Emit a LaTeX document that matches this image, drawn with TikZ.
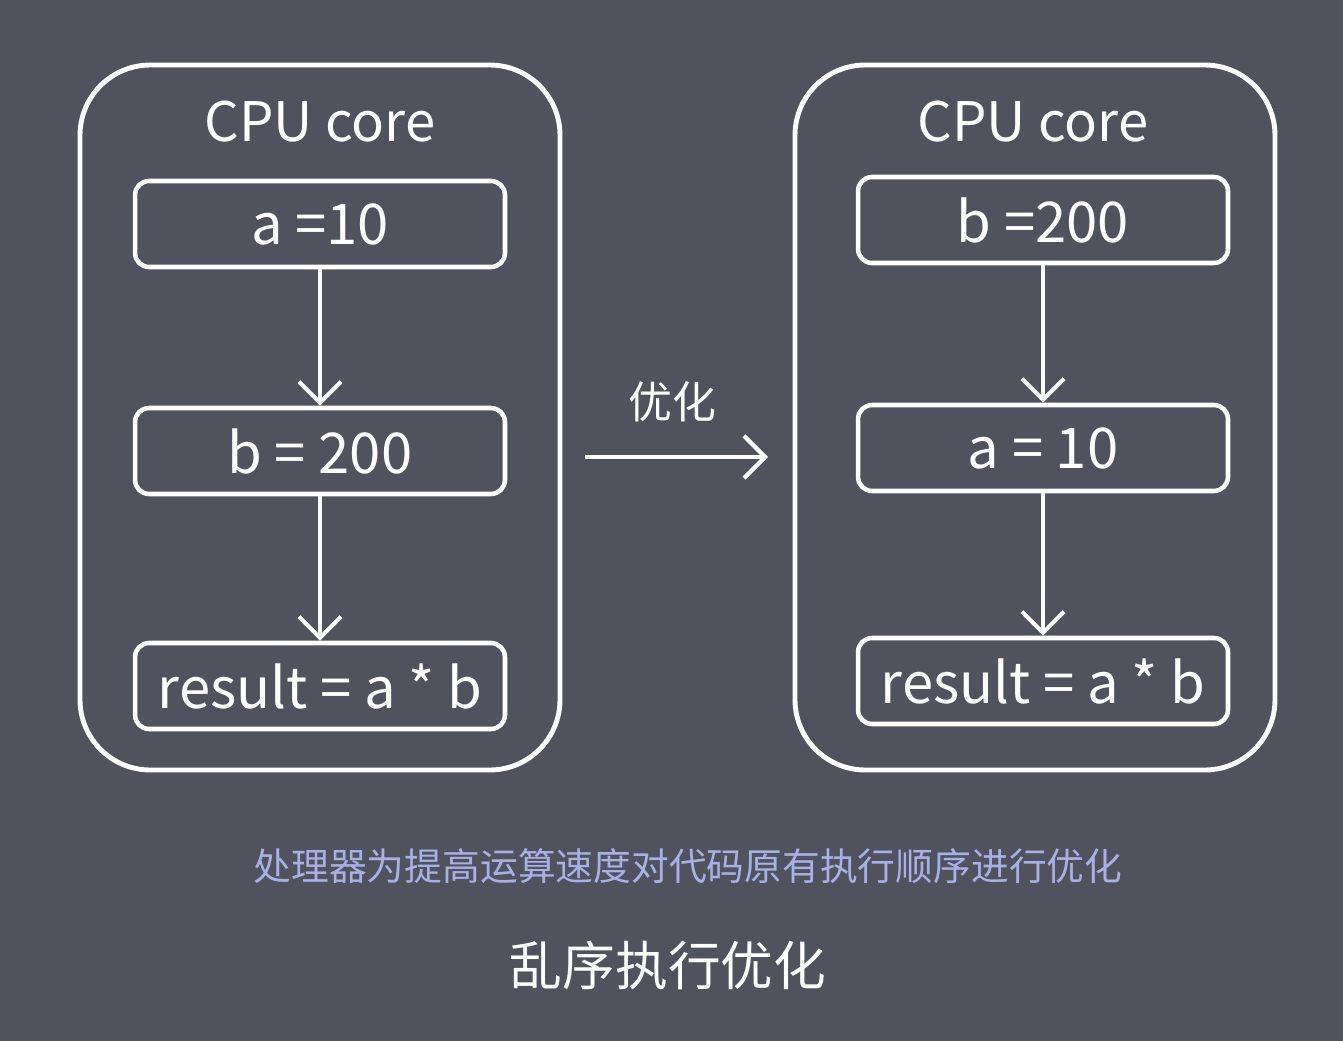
\documentclass[tikz,border=0pt]{standalone}
\usepackage{fontspec}
\setmainfont{Noto Sans CJK SC}
\usetikzlibrary{arrows.meta,positioning}
\definecolor{bgcol}{HTML}{50525E}
\definecolor{capcol}{HTML}{A9B0E6}
\begin{document}
\begin{tikzpicture}[x=0.02cm,y=-0.02cm,
  core/.style={draw=white,line width=2.8pt,rounded corners=40pt},
  stmt/.style={draw=white,line width=2.6pt,rounded corners=8pt,minimum width=7.4cm,
    minimum height=1.72cm,text=white,font=\fontsize{32}{36}\selectfont},
  title/.style={text=white,font=\fontsize{31}{36}\selectfont},
  flow/.style={white,line width=2.4pt,-{Straight Barb[length=12pt,width=24pt,line width=2.4pt]}}]
  \fill[bgcol] (0,0) rectangle (1343,1041);
  % left core
  \draw[core] (80,65) rectangle (560,770);
  \node[title] (tl) at (320,122) {CPU core};
  \node[stmt] (la) at (320,224) {a =10};
  \node[stmt] (lb) at (320,451) {b = 200};
  \node[stmt] (lr) at (320,686) {result = a * b};
  \draw[flow] (la) -- (lb);
  \draw[flow] (lb) -- (lr);
  % right core
  \draw[core] (795,65) rectangle (1275,770);
  \node[title] (tr) at (1033,122) {CPU core};
  \node[stmt] (rb) at (1043,220) {b =200};
  \node[stmt] (ra) at (1043,448) {a = 10};
  \node[stmt] (rr) at (1043,681) {result = a * b};
  \draw[flow] (rb) -- (ra);
  \draw[flow] (ra) -- (rr);
  % optimisation arrow
  \coordinate (os) at (585,457);
  \coordinate (oe) at (768,457);
  \draw[flow] (os) -- (oe);
  \node[text=white,font=\fontsize{25}{28}\selectfont] (opt) at (672,402) {优化};
  % captions
  \node[text=capcol,font=\fontsize{21.5}{26}\selectfont] (cap) at (688,866) {处理器为提高运算速度对代码原有执行顺序进行优化};
  \node[text=white,font=\fontsize{30}{34}\selectfont] (name) at (668,965) {乱序执行优化};
\end{tikzpicture}
\end{document}
